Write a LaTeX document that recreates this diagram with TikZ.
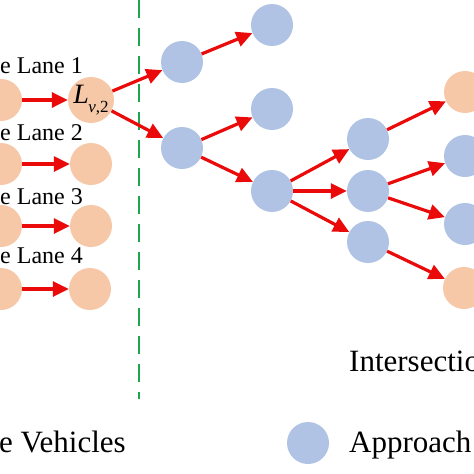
\documentclass[tikz,border=0pt]{standalone}
\usepackage{fontspec}
\setmainfont{Liberation Serif}
\usetikzlibrary{arrows.meta}
\definecolor{vorange}{RGB}{246,200,168}
\definecolor{vblue}{RGB}{176,195,228}
\definecolor{arrred}{RGB}{235,10,10}
\definecolor{sepgreen}{RGB}{30,165,80}
\begin{document}
\begin{tikzpicture}[x=1pt,y=-1pt,
  veh/.style={circle,minimum size=42pt,inner sep=0pt,draw=none,fill=#1},
  ov/.style={veh=vorange},
  bv/.style={veh=vblue},
  arr/.style={draw=arrred,line width=3.2pt,-{Triangle[length=16pt,width=15pt]}},
  lanelab/.style={anchor=base west,inner sep=0pt,font=\fontsize{24}{24}\selectfont},
  biglab/.style={anchor=base west,inner sep=0pt,font=\fontsize{31}{31}\selectfont}]
\useasboundingbox (0,0) rectangle (474,474);
\fill[white] (0,0) rectangle (474,474);
% separator
\coordinate (sepT) at (139,0);
\coordinate (sepB) at (139,399);
\draw[sepgreen,line width=2.2pt,dash pattern=on 18pt off 10pt] (sepT) -- (sepB);
% left lanes
\node[ov] (a1) at (1,100) {};
\node[ov] (b1) at (91,100) {\fontsize{28}{28}\selectfont\itshape L\kern-0.5pt\raisebox{-0.3em}{\fontsize{17}{17}\selectfont v\upshape,2}};
\node[ov] (a2) at (1,164) {};
\node[ov] (b2) at (91,164) {};
\node[ov] (a3) at (1,226) {};
\node[ov] (b3) at (91,226) {};
\node[ov] (a4) at (1,289) {};
\node[ov] (b4) at (90,289) {};
\node[lanelab] (l1) at (0,73) {e Lane 1};
\node[lanelab] (l2) at (0,140) {e Lane 2};
\node[lanelab] (l3) at (0,204) {e Lane 3};
\node[lanelab] (l4) at (0,263) {e Lane 4};
% approach tree
\node[bv] (c1) at (182,62) {};
\node[bv] (c2) at (182,148) {};
\node[bv] (d1) at (272,25) {};
\node[bv] (d2) at (272,109) {};
\node[bv] (d3) at (272,191) {};
\node[bv] (e1) at (368,139) {};
\node[bv] (e2) at (368,191) {};
\node[bv] (e3) at (368,242) {};
\node[ov] (f1) at (465,92) {};
\node[bv] (f2) at (465,156) {};
\node[bv] (f3) at (465,224) {};
\node[ov] (f4) at (464,288) {};
% arrows
\draw[arr] (a1) -- (b1);
\draw[arr] (a2) -- (b2);
\draw[arr] (a3) -- (b3);
\draw[arr] (a4) -- (b4);
\draw[arr] (b1) -- (c1);
\draw[arr] (b1) -- (c2);
\draw[arr] (c1) -- (d1);
\draw[arr] (c2) -- (d2);
\draw[arr] (c2) -- (d3);
\draw[arr] (d3) -- (e1);
\draw[arr] (d3) -- (e2);
\draw[arr] (d3) -- (e3);
\draw[arr] (e1) -- (f1);
\draw[arr] (e2) -- (f2);
\draw[arr] (e2) -- (f3);
\draw[arr] (e3) -- (f4);
% labels
\node[biglab] (inter) at (349,371) {Intersectio};
\node[biglab] (vehl) at (-1,452) {e Vehicles};
\node[bv] (legb) at (308,443) {};
\node[biglab] (appl) at (349,452) {Approach};
\end{tikzpicture}
\end{document}
